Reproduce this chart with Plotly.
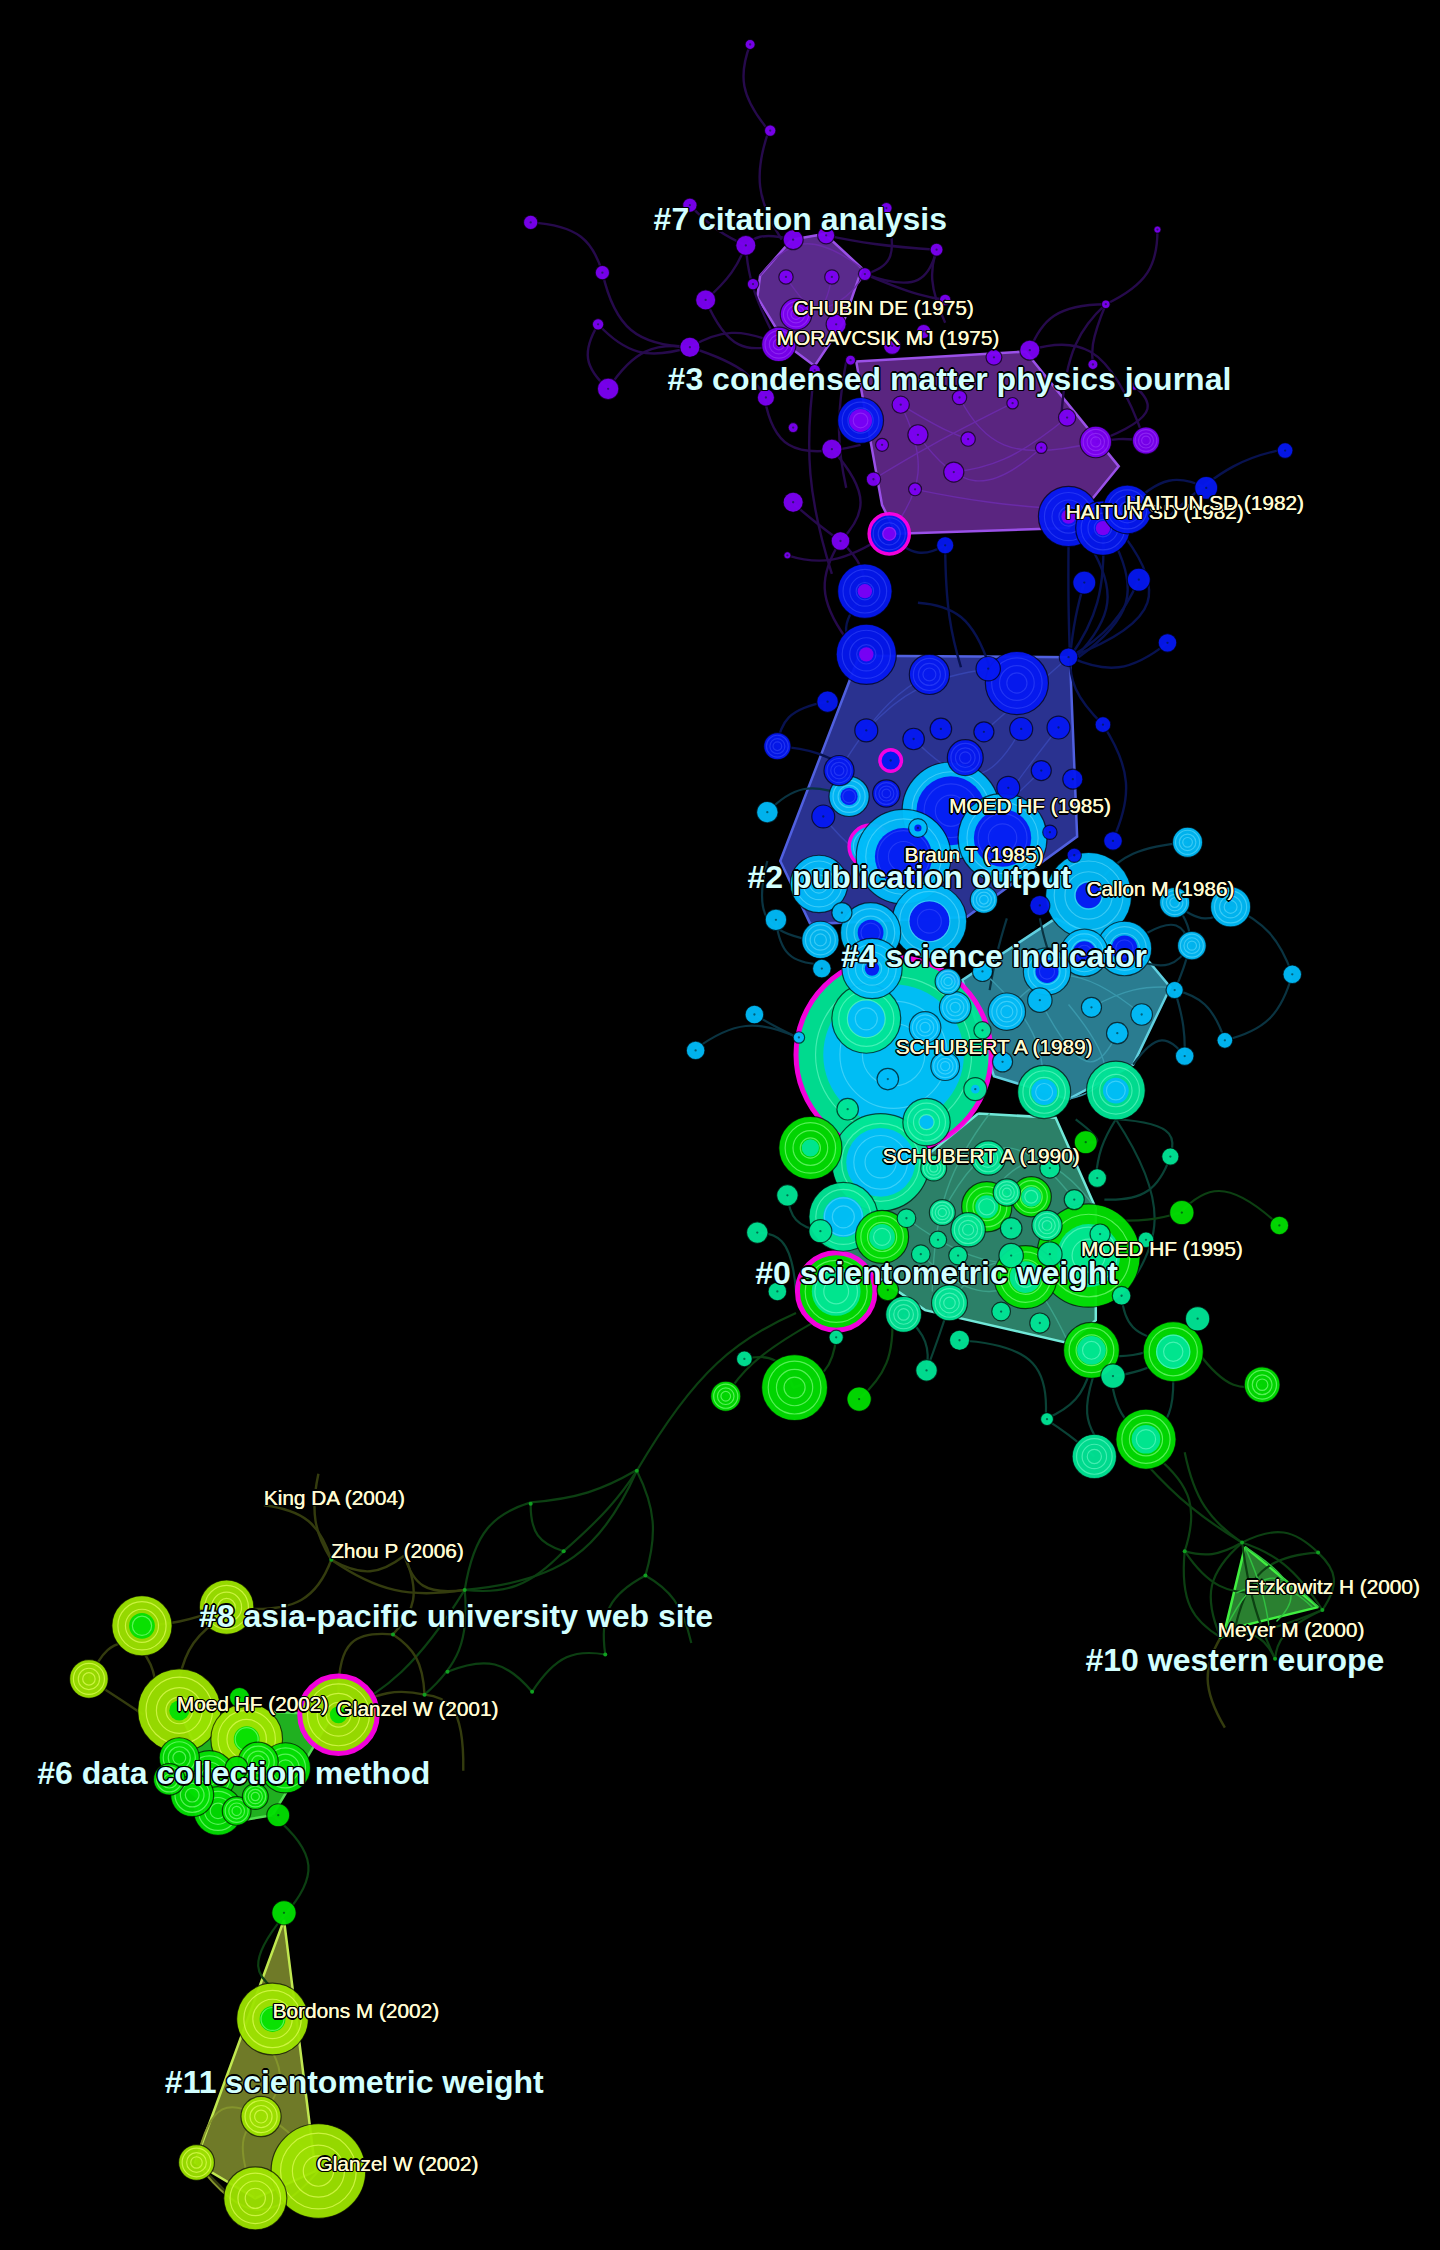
import plotly.graph_objects as go

# all positions are in the picture's own reading grid, 1004 x 1568
GRID_W = 1004
GRID_H = 1568
SCALE = 1440 / GRID_W

# nodes by colour family
purple_x = [523, 537, 370, 481, 618, 553, 576, 520, 653, 807, 420, 603, 548, 580, 525, 492, 771, 555, 659, 417, 583, 644, 481, 543, 622, 718, 693, 762, 593, 568, 424, 791, 534, 628, 669, 706, 744, 553, 764, 799, 640, 675, 726, 615, 580, 665, 609, 638, 553, 586, 549]
purple_y = [31, 91, 155, 143, 145, 167, 164, 171, 174, 160, 190, 191, 193, 193, 198, 209, 212, 219, 209, 226, 226, 231, 242, 240, 241, 244, 249, 254, 251, 258, 271, 269, 277, 282, 277, 281, 291, 298, 308, 307, 303, 306, 312, 310, 313, 329, 334, 341, 350, 377, 387]
purple_r = [3.5, 4, 5, 5, 4, 7, 6, 7, 4.5, 2.5, 5, 4.5, 5, 5, 4, 7, 3, 11, 4, 4, 7, 5, 7, 12, 6, 7, 5.5, 3.5, 3.5, 4, 7.5, 3, 6, 6, 5, 4, 6, 3.5, 11, 9.5, 7, 5, 4, 4.5, 7, 7, 5, 4.5, 7, 6.5, 2.5]

blue_purple_x = [600, 620, 745, 769, 603, 604]
blue_purple_y = [293, 372, 360, 368, 412, 456]
blue_purple_r = [16, 14, 21, 19, 19, 21]
blue_purple_core = [8, 5, 5, 5, 5, 5]

blue_x = [786, 841, 896, 659, 756, 794, 648, 689, 709, 745, 814, 577, 542, 769, 604, 637, 656, 686, 712, 738, 621, 673, 585, 726, 748, 618, 703, 574, 776, 732, 725, 749]
blue_y = [355, 340, 314, 380, 406, 404, 470, 466, 476, 458, 448, 489, 520, 505, 509, 515, 508, 510, 508, 507, 530, 528, 537, 537, 543, 553, 549, 569, 586, 580, 631, 596]
blue_r = [17, 8, 5.5, 6, 8, 8, 14, 8.5, 22, 6.5, 6.5, 7.5, 9.5, 5.5, 8, 7.5, 7.5, 7, 8, 8, 7.5, 12.5, 10.5, 7, 7, 9.5, 8, 8, 6.5, 5, 7, 5]

cyan_blue_x = [592, 663, 699, 630, 640, 648, 607, 759, 784, 756, 730, 608]
cyan_blue_y = [555, 565, 584, 597, 577, 642, 650, 624, 661, 664, 677, 675]
cyan_blue_r = [14, 34, 31, 33, 6.5, 26, 21, 30, 19, 16.5, 16.5, 21]
cyan_blue_core = [6, 24, 20, 20, 2.5, 14, 9, 9, 9, 8, 8, 5]

cyan_x = [571, 535, 541, 587, 572, 686, 828, 819, 858, 831, 685, 573, 661, 819, 901, 725, 702, 761, 796, 779, 526, 485, 854, 826, 699, 666, 645, 659, 619, 557]
cyan_y = [616, 566, 641, 636, 655, 627, 587, 629, 632, 659, 677, 675, 684, 690, 679, 697, 705, 702, 707, 720, 707, 732, 725, 736, 740, 702, 716, 743, 752, 723]
cyan_r = [20, 7.5, 7.5, 7, 13, 9.5, 10.5, 10.5, 14, 10, 7, 6.5, 9, 6, 6.5, 8.5, 13, 7, 7.5, 7.5, 6.5, 6.5, 5.5, 6.5, 7, 11, 11, 10, 7.5, 4]

# burst node that sits underneath its big neighbours
under_x = [607]
under_y = [590]
under_r = [15]

mint_cyan_x = [623, 604, 646, 680, 728, 778, 614, 588]
mint_cyan_y = [735, 710, 782, 759, 761, 760, 810, 848]
mint_cyan_r = [68, 24, 16.5, 8, 18.5, 20.5, 34, 24]
mint_cyan_core = [49, 13, 5, 3, 9, 9, 24, 14]

mint_x = [591, 685, 689, 651, 732, 765, 816, 549, 702, 749, 657, 632, 572, 528, 675, 705, 730, 767, 654, 799, 642, 668, 705, 732, 542, 782, 630, 662, 698, 725, 669, 583, 519, 646, 776, 835, 730, 763]
mint_y = [773, 718, 807, 814, 814, 821, 806, 833, 831, 836, 845, 849, 858, 859, 857, 856, 854, 860, 864, 864, 874, 875, 875, 874, 900, 903, 916, 908, 914, 922, 934, 932, 947, 955, 959, 919, 989, 1015]
mint_r = [7.5, 6, 12, 9, 7, 6.5, 6, 7.5, 9.5, 7, 9, 6.5, 8, 7.5, 12, 7.5, 10.5, 7, 6, 5.5, 6.5, 6.5, 8.5, 8.5, 6.5, 6.5, 12.5, 12.5, 6.5, 7, 7, 5, 5.5, 7.5, 8.5, 8.5, 4.5, 15.5]

green_mint_x = [565, 688, 719, 615, 759, 715, 583, 761, 818, 799]
green_mint_y = [800, 841, 834, 862, 875, 890, 900, 941, 942, 1003]
green_mint_r = [22, 17.5, 14, 18.5, 36, 22, 27, 19.5, 21, 21]
green_mint_core = [6, 8, 7, 9, 22, 11, 17, 10, 12, 10]

green_x = [757, 824, 892, 619, 554, 506, 599, 880, 167, 199, 134, 152, 178, 165, 194, 125, 165, 198, 146, 118, 180]
green_y = [796, 845, 854, 899, 967, 973, 975, 965, 1183, 1232, 1251, 1262, 1252, 1262, 1265, 1225, 1232, 1333, 1238, 1240, 1228]
green_r = [8, 8.5, 6.5, 7.5, 23, 10.5, 8.5, 12.5, 7, 17.5, 15, 17, 9, 10, 8, 14, 8, 8.5, 18, 11, 14]

lime_green_x = [99, 125, 172, 236, 190]
lime_green_y = [1133, 1192, 1212, 1195, 1407]
lime_green_r = [21, 29, 25, 27, 25]
lime_green_core = [9, 7, 9, 6, 9]

lime_x = [158, 62, 182, 137, 222, 178]
lime_y = [1120, 1170, 1475, 1507, 1513, 1532]
lime_r = [19, 13.5, 14, 12.5, 33, 22]

# citation bursts, the ones with a magenta rim
burst_x = [620, 621, 607, 623, 583, 236]
burst_y = [372, 530, 590, 735, 900, 1195]

# cluster hulls
hull_7_x = [530, 552, 575, 601, 588, 568, 548, 528]
hull_7_y = [192, 167, 163, 187, 225, 255, 240, 207]
hull_3_x = [597, 715, 780, 745, 625, 615]
hull_3_y = [252, 245, 325, 368, 372, 352]
hull_2_x = [599, 746, 751, 674, 565, 544]
hull_2_y = [457, 458, 583, 639, 644, 600]
hull_4_x = [736, 801, 816, 790, 745, 693, 671]
hull_4_y = [640, 670, 688, 742, 766, 750, 683]
hull_0_x = [682, 736, 764, 764, 745, 645, 574]
hull_0_y = [776, 779, 842, 920, 936, 913, 864]
hull_10_x = [868, 919, 854]
hull_10_y = [1078, 1120, 1136]
hull_11_x = [198, 220, 178, 136]
hull_11_y = [1338, 1513, 1532, 1507]
hull_6_x = [124, 232, 190, 160]
hull_6_y = [1190, 1195, 1265, 1270]

# links: start x, start y, bend x, bend y, end x, end y
purple_links = [
    (523, 31, 519, 60, 536, 91), (536, 91, 530, 130, 545, 167), (370, 155, 405, 165, 420, 190),
    (420, 190, 440, 230, 481, 242), (417, 226, 410, 250, 424, 271), (417, 226, 445, 245, 481, 242),
    (424, 271, 450, 245, 481, 242), (481, 242, 510, 232, 543, 240), (481, 242, 520, 260, 533, 277),
    (492, 209, 515, 240, 543, 240), (492, 209, 510, 190, 520, 171), (520, 171, 525, 200, 543, 240),
    (481, 143, 500, 160, 520, 171), (520, 171, 530, 165, 553, 167), (576, 164, 610, 170, 653, 174),
    (653, 174, 640, 195, 603, 191), (617, 145, 620, 180, 603, 191), (603, 191, 640, 205, 659, 209),
    (653, 174, 650, 195, 659, 225), (807, 160, 800, 190, 771, 212), (771, 212, 735, 220, 718, 244),
    (771, 212, 750, 240, 740, 290), (771, 212, 762, 240, 762, 254), (718, 244, 760, 245, 798, 307),
    (533, 277, 550, 310, 600, 310), (580, 313, 600, 350, 586, 377), (552, 350, 570, 365, 586, 377),
    (549, 387, 580, 390, 619, 372), (586, 377, 600, 395, 603, 412), (764, 308, 800, 285, 791, 269),
    (764, 308, 780, 306, 799, 307), (568, 258, 565, 330, 580, 400), (590, 252, 585, 300, 590, 340),
    (586, 377, 575, 410, 590, 445),
]
purple_inner = [
    (548, 193, 570, 215, 580, 193), (530, 192, 560, 170, 601, 187), (555, 219, 585, 210, 603, 191),
    (628, 282, 660, 300, 675, 306), (640, 303, 680, 335, 726, 312), (609, 334, 650, 310, 706, 281),
    (744, 291, 700, 320, 665, 329), (638, 341, 690, 350, 745, 355), (669, 277, 700, 310, 764, 308),
    (620, 372, 640, 330, 628, 282),
]
blue_links = [
    (896, 313, 860, 325, 815, 360), (841, 340, 815, 335, 786, 355), (659, 380, 640, 385, 620, 372),
    (659, 380, 662, 430, 670, 465), (756, 406, 750, 430, 746, 458), (794, 404, 775, 435, 746, 458),
    (769, 368, 765, 420, 746, 458), (745, 380, 745, 420, 746, 458), (785, 375, 800, 420, 746, 458),
    (814, 448, 780, 465, 746, 458), (769, 505, 750, 480, 746, 458), (769, 505, 785, 545, 776, 585),
    (577, 489, 550, 500, 542, 520), (542, 520, 570, 525, 590, 535), (604, 412, 590, 440, 604, 456),
    (640, 420, 670, 430, 690, 465), (760, 380, 772, 420, 750, 458), (778, 380, 785, 420, 752, 458),
]
blue_inner = [
    (604, 509, 640, 480, 690, 466), (637, 515, 680, 540, 712, 508), (585, 537, 620, 490, 648, 470),
    (574, 569, 620, 600, 673, 528), (686, 510, 720, 480, 745, 458), (738, 507, 700, 560, 726, 537),
]
cyan_links = [
    (485, 731, 520, 715, 556, 723), (526, 707, 540, 715, 556, 723), (535, 566, 560, 550, 590, 555),
    (828, 587, 790, 595, 770, 610), (859, 632, 885, 650, 901, 679), (901, 679, 885, 710, 854, 725),
    (819, 629, 840, 640, 859, 632), (819, 690, 840, 700, 854, 725), (819, 690, 825, 715, 826, 736),
    (790, 742, 810, 725, 826, 736), (800, 650, 820, 645, 830, 658), (790, 668, 815, 672, 830, 658),
    (830, 658, 825, 675, 819, 690), (819, 629, 828, 645, 830, 658), (541, 641, 550, 665, 572, 672),
    (535, 600, 535, 640, 565, 655), (702, 640, 695, 665, 690, 690), (725, 640, 730, 660, 738, 680),
]
cyan_inner = [
    (702, 705, 740, 680, 796, 707), (725, 697, 760, 740, 779, 720), (685, 677, 720, 720, 728, 760),
    (761, 702, 790, 690, 816, 688), (745, 700, 770, 750, 745, 766),
]
mint_links = [
    (729, 989, 745, 1000, 763, 1015), (729, 989, 750, 975, 760, 955), (763, 1000, 758, 985, 762, 960),
    (776, 968, 782, 985, 795, 1000), (818, 962, 815, 985, 805, 1000), (776, 959, 795, 955, 818, 945),
    (760, 941, 780, 945, 800, 942), (528, 859, 545, 865, 555, 900), (549, 833, 555, 850, 572, 858),
    (782, 903, 790, 925, 815, 935), (778, 780, 768, 800, 764, 821), (750, 780, 765, 795, 757, 796),
    (778, 780, 815, 790, 816, 806), (770, 836, 800, 830, 816, 806), (778, 780, 805, 850, 782, 903),
    (646, 955, 645, 935, 630, 916), (646, 955, 655, 930, 660, 915), (668, 934, 720, 950, 729, 989),
]
mint_inner = [
    (657, 845, 700, 800, 749, 836), (642, 874, 690, 900, 732, 874), (632, 849, 700, 880, 767, 860),
    (675, 857, 720, 810, 764, 842), (662, 908, 700, 880, 745, 936), (690, 776, 660, 830, 650, 900),
]
green_links = [
    (555, 915, 500, 950, 444, 1025), (570, 920, 525, 950, 506, 973), (519, 947, 540, 948, 553, 967),
    (553, 967, 575, 955, 583, 932), (599, 975, 618, 950, 622, 915), (835, 942, 860, 965, 880, 965),
    (799, 1020, 830, 1050, 866, 1075), (806, 1015, 829, 1045, 826, 1081), (826, 1012, 840, 1050, 866, 1075),
    (823, 845, 850, 830, 892, 854), (770, 850, 800, 850, 823, 845), (443, 1025, 410, 1040, 370, 1047),
    (370, 1047, 340, 1065, 324, 1108), (370, 1047, 375, 1070, 393, 1081), (444, 1025, 425, 1050, 393, 1081),
    (444, 1025, 455, 1060, 450, 1098), (450, 1098, 425, 1120, 422, 1153), (450, 1098, 470, 1115, 482, 1145),
    (422, 1153, 395, 1155, 371, 1179), (371, 1179, 345, 1160, 312, 1165), (393, 1081, 360, 1105, 324, 1108),
    (444, 1025, 400, 1085, 324, 1108), (324, 1108, 320, 1150, 296, 1181), (324, 1108, 280, 1165, 236, 1195),
    (190, 1265, 215, 1300, 198, 1335), (198, 1335, 180, 1370, 190, 1385),
    (826, 1081, 845, 1083, 866, 1075), (826, 1081, 850, 1105, 880, 1110), (826, 1081, 830, 1120, 851, 1141),
    (866, 1075, 895, 1090, 922, 1122), (866, 1075, 895, 1068, 919, 1082), (919, 1082, 930, 1100, 922, 1122),
    (919, 1082, 880, 1095, 860, 1140), (866, 1075, 845, 1105, 851, 1141), (922, 1122, 885, 1135, 851, 1141),
    (851, 1141, 875, 1140, 889, 1156), (889, 1156, 895, 1140, 922, 1122), (866, 1075, 875, 1120, 889, 1156),
]
green_inner = [
    (868, 1078, 880, 1110, 885, 1135), (854, 1136, 885, 1100, 919, 1120), (862, 1110, 890, 1105, 915, 1120),
    (868, 1078, 900, 1110, 890, 1130),
]
lime_links = [
    (231, 1087, 275, 1108, 324, 1108), (231, 1087, 258, 1095, 282, 1084), (282, 1084, 295, 1105, 324, 1108),
    (282, 1084, 288, 1115, 274, 1139), (184, 1049, 215, 1060, 231, 1087), (231, 1087, 210, 1115, 158, 1120),
    (274, 1139, 290, 1155, 296, 1181), (274, 1139, 245, 1145, 236, 1180), (296, 1181, 315, 1190, 323, 1234),
    (236, 1195, 270, 1180, 296, 1181), (99, 1133, 125, 1130, 158, 1120), (158, 1125, 135, 1145, 125, 1170),
    (99, 1150, 105, 1160, 108, 1170), (62, 1170, 75, 1150, 85, 1145), (62, 1170, 85, 1185, 100, 1195),
    (851, 1141, 842, 1170, 854, 1204), (222, 1027, 220, 1060, 231, 1087), (137, 1507, 150, 1520, 160, 1530),
]
lime_inner = [
    (137, 1507, 155, 1470, 182, 1475), (178, 1532, 170, 1490, 182, 1475), (137, 1507, 180, 1540, 222, 1513),
    (190, 1430, 195, 1450, 182, 1475), (182, 1475, 200, 1485, 222, 1513),
]

# small unlabelled junction dots along the long links
dot_x = [444, 370, 393, 324, 231, 283, 274, 312, 296, 371, 422, 450, 866, 826, 919, 922, 851, 889]
dot_y = [1025, 1048, 1081, 1108, 1087, 1084, 1139, 1165, 1181, 1179, 1153, 1098, 1075, 1081, 1082, 1122, 1141, 1156]

cluster_names = [
    "#7 citation analysis", "#3 condensed matter physics journal", "#2 publication output",
    "#4 science indicator", "#0 scientometric weight", "#8 asia-pacific university web site",
    "#6 data collection method", "#10 western europe", "#11 scientometric weight",
]
cluster_x = [558, 662, 634, 693, 653, 318, 163, 861, 247]
cluster_y = [155, 266, 613, 668, 889, 1128, 1238, 1159, 1453]

node_names = [
    "CHUBIN DE (1975)", "MORAVCSIK MJ (1975)", "HAITUN SD (1982)", "HAITUN SD (1982)", "MOED HF (1985)",
    "Braun T (1985)", "Callon M (1986)", "SCHUBERT A (1989)", "SCHUBERT A (1990)", "MOED HF (1995)",
    "King DA (2004)", "Zhou P (2006)", "Moed HF (2002)", "Glanzel W (2001)", "Etzkowitz H (2000)",
    "Meyer M (2000)", "Bordons M (2002)", "Glanzel W (2002)",
]
node_name_x = [616, 619, 805, 847, 718, 679, 809, 693, 684, 810, 233, 277, 176, 291, 929, 900, 248, 277]
node_name_y = [216, 237, 358, 352, 563, 597, 621, 731, 807, 872, 1045, 1082, 1189, 1192, 1107, 1137, 1403, 1509]


def link_trace(links, color, width):
    xs, ys = [], []
    for x0, y0, cx, cy, x1, y1 in links:
        xs += [x0, cx, x1, None]
        ys += [y0, cy, y1, None]
    return go.Scatter(x=xs, y=ys, mode="lines", line=dict(color=color, width=width, shape="spline", smoothing=1.3),
                      hoverinfo="skip", showlegend=False)


def hull_trace(xs, ys, fill, edge):
    return go.Scatter(x=xs + xs[:1], y=ys + ys[:1], mode="lines", fill="toself", fillcolor=fill,
                      line=dict(color=edge, width=2.5), hoverinfo="skip", showlegend=False)


PURPLE = "#7c00f4"
BLUE = "#0518f2"
CYAN = "#00bcfa"
MINT = "#00e696"
GREEN = "#02e002"
LIME = "#9ee400"
RING = {
    PURPLE: "rgba(170,80,255,0.45)", BLUE: "rgba(70,90,255,0.45)", CYAN: "rgba(120,230,255,0.5)",
    MINT: "rgba(130,255,210,0.55)", GREEN: "rgba(130,255,130,0.7)", LIME: "rgba(225,255,90,0.75)",
}

families = [
    (purple_x, purple_y, purple_r, [0] * len(purple_x), PURPLE, None),
    (blue_purple_x, blue_purple_y, blue_purple_r, blue_purple_core, BLUE, PURPLE),
    (blue_x, blue_y, blue_r, [0] * len(blue_x), BLUE, None),
    (cyan_blue_x, cyan_blue_y, cyan_blue_r, cyan_blue_core, CYAN, BLUE),
    (cyan_x, cyan_y, cyan_r, [0] * len(cyan_x), CYAN, None),
    (mint_cyan_x, mint_cyan_y, mint_cyan_r, mint_cyan_core, MINT, CYAN),
    (mint_x, mint_y, mint_r, [0] * len(mint_x), MINT, None),
    (green_mint_x, green_mint_y, green_mint_r, green_mint_core, GREEN, MINT),
    (green_x, green_y, green_r, [0] * len(green_x), GREEN, None),
    (lime_green_x, lime_green_y, lime_green_r, lime_green_core, LIME, GREEN),
    (lime_x, lime_y, lime_r, [0] * len(lime_x), LIME, None),
]

nodes = []
for xs, ys, rs, cores, outer, inner in families:
    for x, y, r, core in zip(xs, ys, rs, cores):
        nodes.append((r, x, y, core, outer, inner))
# big circles go underneath, small ones stay visible on top
nodes.sort(key=lambda n: -n[0])
nodes = [(r, x, y, 0, CYAN, None) for x, y, r in zip(under_x, under_y, under_r)] + nodes

bursts = set(zip(burst_x, burst_y))
px, py, size, fill, edge, edge_w = [], [], [], [], [], []


def disc(x, y, r, color, line_color="rgba(0,0,0,0)", line_w=0):
    px.append(x)
    py.append(y)
    size.append(2 * r * SCALE)
    fill.append(color)
    edge.append(line_color)
    edge_w.append(line_w)


for r, x, y, core, outer, inner in nodes:
    if (x, y) in bursts:
        disc(x, y, r, outer, "#ff00e6", 5 if r > 20 else 3.5)
    else:
        disc(x, y, r, outer, "rgba(0,0,0,0.7)", 1.2)
    if inner:
        disc(x, y, core, inner)
    if r >= 9:
        for part in (0.8, 0.55, 0.32):
            disc(x, y, r * part, "rgba(0,0,0,0)", RING[inner if inner and core > r * part else outer], 1.2)
    if r <= 8.5:
        disc(x, y, 0.8, "rgba(0,30,30,0.6)")

fig = go.Figure()
fig.add_trace(hull_trace(hull_7_x, hull_7_y, "#5a2a8c", "#9a50e8"))
fig.add_trace(hull_trace(hull_3_x, hull_3_y, "#5a2580", "#9a50e8"))
fig.add_trace(hull_trace(hull_2_x, hull_2_y, "#2a3290", "#5060e0"))
fig.add_trace(hull_trace(hull_4_x, hull_4_y, "#2a7c90", "#60d0e0"))
fig.add_trace(hull_trace(hull_0_x, hull_0_y, "#2c8068", "#70e8d8"))
fig.add_trace(hull_trace(hull_10_x, hull_10_y, "#2a8030", "#40f040"))
fig.add_trace(hull_trace(hull_11_x, hull_11_y, "#6f7a28", "#c0e850"))
fig.add_trace(hull_trace(hull_6_x, hull_6_y, "#20b020", "#50e050"))

fig.add_trace(link_trace(purple_links, "#260a4c", 2.4))
fig.add_trace(link_trace(blue_links, "#081250", 2.4))
fig.add_trace(link_trace(cyan_links, "#0a3442", 2.2))
fig.add_trace(link_trace(mint_links, "#0a4236", 2.2))
fig.add_trace(link_trace(green_links, "#0c4012", 2.2))
fig.add_trace(link_trace(lime_links, "#343c0e", 2.4))
fig.add_trace(link_trace(purple_inner, "#6a2aa8", 1.4))
fig.add_trace(link_trace(blue_inner, "#3644b0", 1.4))
fig.add_trace(link_trace(cyan_inner, "#3a98ac", 1.4))
fig.add_trace(link_trace(mint_inner, "#3ca088", 1.4))
fig.add_trace(link_trace(green_inner, "#30c040", 1.4))
fig.add_trace(link_trace(lime_inner, "#84942c", 2))

fig.add_trace(go.Scatter(x=dot_x, y=dot_y, mode="markers", marker=dict(color="#10a020", size=4),
                         hoverinfo="skip", showlegend=False))
# size arrays get a default opacity of 0.7 in plotly, so it has to be set here
fig.add_trace(go.Scatter(x=px, y=py, mode="markers", hoverinfo="skip", showlegend=False,
                         marker=dict(size=size, color=fill, opacity=0.95, line=dict(color=edge, width=edge_w),
                                     sizemode="diameter")))

OUTLINE = "1px 1px 0 #000,-1px -1px 0 #000,1px -1px 0 #000,-1px 1px 0 #000,0 1.5px 0 #000,1.5px 0 0 #000,-1.5px 0 0 #000,0 -1.5px 0 #000"
fig.add_trace(go.Scatter(x=node_name_x, y=node_name_y, text=node_names, mode="text", hoverinfo="skip", showlegend=False,
                         textfont=dict(family="Liberation Sans", size=20.8, color="#fffbd2",
                                       shadow="0.4px 0 0 #fffbd2," + OUTLINE)))
fig.add_trace(go.Scatter(x=cluster_x, y=cluster_y, text=cluster_names, mode="text", hoverinfo="skip", showlegend=False,
                         textfont=dict(family="Liberation Sans", size=32, weight=700, color="#d2ffff", shadow=OUTLINE)))

fig.update_layout(width=1440, height=2250, margin=dict(l=0, r=0, t=0, b=0), paper_bgcolor="#000000",
                  plot_bgcolor="#000000", showlegend=False)
fig.update_xaxes(range=[0, GRID_W], visible=False, fixedrange=True)
fig.update_yaxes(range=[GRID_H, 0], visible=False, fixedrange=True)
fig.write_html("out.html", post_script="document.body.style.margin='0';document.body.style.background='#000';",
               config={"displayModeBar": False})
